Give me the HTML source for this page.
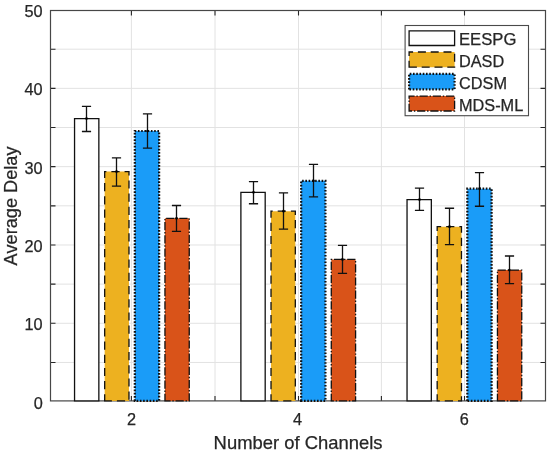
<!DOCTYPE html><html><head><meta charset="utf-8"><title>Average Delay vs Number of Channels</title><style>html,body{margin:0;padding:0;background:#fff;width:550px;height:454px;overflow:hidden}svg{display:block}text{font-family:"Liberation Sans",Arial,sans-serif;fill:#262626;stroke:#262626;stroke-width:0.25px}</style></head><body>
<svg width="550" height="454" viewBox="0 0 550 454">
<rect x="0" y="0" width="550" height="454" fill="#fff"/>
<path d="M131.40 10.5V400.9M215.00 10.5V400.9M298.50 10.5V400.9M381.40 10.5V400.9M464.50 10.5V400.9M50.5 362.45H545.5M50.5 323.29H545.5M50.5 284.13H545.5M50.5 244.98H545.5M50.5 205.83H545.5M50.5 166.67H545.5M50.5 127.51H545.5M50.5 88.36H545.5M50.5 49.20H545.5" stroke="#e2e2e2" stroke-width="1" fill="none"/>
<path d="M131.40 400.9v-5M131.40 10.5v5M215.00 400.9v-5M215.00 10.5v5M298.50 400.9v-5M298.50 10.5v5M381.40 400.9v-5M381.40 10.5v5M464.50 400.9v-5M464.50 10.5v5M50.5 362.45h5M545.5 362.45h-5M50.5 323.29h5M545.5 323.29h-5M50.5 284.13h5M545.5 284.13h-5M50.5 244.98h5M545.5 244.98h-5M50.5 205.83h5M545.5 205.83h-5M50.5 166.67h5M545.5 166.67h-5M50.5 127.51h5M545.5 127.51h-5M50.5 88.36h5M545.5 88.36h-5M50.5 49.20h5M545.5 49.20h-5" stroke="#262626" stroke-width="1.1" fill="none"/>
<rect x="50.5" y="10.5" width="495.0" height="390.4" fill="none" stroke="#474747" stroke-width="1.2"/>
<path d="M74.55 400.90V118.60H98.85V400.90Z" fill="#ffffff" stroke="#111" stroke-width="1.3"/>
<path d="M104.68 400.90V171.60H128.98V400.90Z" fill="#EDB120" stroke="#111" stroke-width="1.3" stroke-dasharray="8.2 5" stroke-dashoffset="1.6"/>
<path d="M134.82 400.90V131.00H159.12V400.90Z" fill="#1A9CF8" stroke="#111" stroke-width="2.2" stroke-dasharray="1.6 1.65" stroke-dashoffset="0"/>
<path d="M164.95 400.90V218.30H189.25V400.90Z" fill="#D95319" stroke="#111" stroke-width="1.3" stroke-dasharray="8.2 1.8 1.4 1.8" stroke-dashoffset="1.0"/>
<path d="M240.89 400.90V192.35H265.19V400.90Z" fill="#ffffff" stroke="#111" stroke-width="1.3"/>
<path d="M271.02 400.90V211.20H295.32V400.90Z" fill="#EDB120" stroke="#111" stroke-width="1.3" stroke-dasharray="8.2 5" stroke-dashoffset="1.6"/>
<path d="M301.16 400.90V180.85H325.46V400.90Z" fill="#1A9CF8" stroke="#111" stroke-width="2.2" stroke-dasharray="1.6 1.65" stroke-dashoffset="0"/>
<path d="M331.29 400.90V259.40H355.59V400.90Z" fill="#D95319" stroke="#111" stroke-width="1.3" stroke-dasharray="8.2 1.8 1.4 1.8" stroke-dashoffset="1.0"/>
<path d="M407.04 400.90V199.60H431.34V400.90Z" fill="#ffffff" stroke="#111" stroke-width="1.3"/>
<path d="M437.17 400.90V226.70H461.47V400.90Z" fill="#EDB120" stroke="#111" stroke-width="1.3" stroke-dasharray="8.2 5" stroke-dashoffset="1.6"/>
<path d="M467.31 400.90V188.65H491.61V400.90Z" fill="#1A9CF8" stroke="#111" stroke-width="2.2" stroke-dasharray="1.6 1.65" stroke-dashoffset="0"/>
<path d="M497.44 400.90V270.10H521.74V400.90Z" fill="#D95319" stroke="#111" stroke-width="1.3" stroke-dasharray="8.2 1.8 1.4 1.8" stroke-dashoffset="1.0"/>
<path d="M86.5 106.30V131.50M81.90 106.30H91.10M81.90 131.50H91.10M116.5 157.90V186.20M111.90 157.90H121.10M111.90 186.20H121.10M147.5 113.80V148.10M142.90 113.80H152.10M142.90 148.10H152.10M176.5 205.50V231.30M171.90 205.50H181.10M171.90 231.30H181.10M253.5 181.55V203.76M248.90 181.55H258.10M248.90 203.76H258.10M283.5 192.94V229.10M278.90 192.94H288.10M278.90 229.10H288.10M313.5 164.35V196.80M308.90 164.35H318.10M308.90 196.80H318.10M342.5 245.45V273.30M337.90 245.45H347.10M337.90 273.30H347.10M419.5 188.20V210.40M414.90 188.20H424.10M414.90 210.40H424.10M449.5 208.25V244.55M444.90 208.25H454.10M444.90 244.55H454.10M479.5 172.70V206.25M474.90 172.70H484.10M474.90 206.25H484.10M509.5 256.00V283.70M504.90 256.00H514.10M504.90 283.70H514.10" stroke="#111" stroke-width="1.3" fill="none"/>
<circle cx="86.5" cy="118.60" r="1.35" fill="#000"/><circle cx="116.5" cy="171.60" r="1.35" fill="#000"/><circle cx="147.5" cy="131.00" r="1.35" fill="#000"/><circle cx="176.5" cy="218.30" r="1.35" fill="#000"/><circle cx="253.5" cy="192.35" r="1.35" fill="#000"/><circle cx="283.5" cy="211.20" r="1.35" fill="#000"/><circle cx="313.5" cy="180.85" r="1.35" fill="#000"/><circle cx="342.5" cy="259.40" r="1.35" fill="#000"/><circle cx="419.5" cy="199.60" r="1.35" fill="#000"/><circle cx="449.5" cy="226.70" r="1.35" fill="#000"/><circle cx="479.5" cy="188.65" r="1.35" fill="#000"/><circle cx="509.5" cy="270.10" r="1.35" fill="#000"/>
<text x="42.7" y="408.70" font-size="16.3" text-anchor="end">0</text>
<text x="42.7" y="330.39" font-size="16.3" text-anchor="end">10</text>
<text x="42.7" y="252.08" font-size="16.3" text-anchor="end">20</text>
<text x="42.7" y="173.77" font-size="16.3" text-anchor="end">30</text>
<text x="42.7" y="95.46" font-size="16.3" text-anchor="end">40</text>
<text x="42.7" y="17.15" font-size="16.3" text-anchor="end">50</text>
<text x="131.60" y="424.7" font-size="16.3" text-anchor="middle">2</text>
<text x="297.60" y="424.7" font-size="16.3" text-anchor="middle">4</text>
<text x="464.20" y="424.7" font-size="16.3" text-anchor="middle">6</text>
<text x="298.1" y="449.4" font-size="18.2" text-anchor="middle" textLength="169" lengthAdjust="spacingAndGlyphs">Number of Channels</text>
<text transform="translate(17,205.9) rotate(-90)" x="0" y="0" font-size="18.2" text-anchor="middle">Average Delay</text>
<rect x="405.1" y="25.5" width="123.4" height="90.2" fill="#fff" stroke="#4a4a4a" stroke-width="1.1"/>
<path d="M409.1 45.5V30.8H454.6V45.5Z" fill="#ffffff" stroke="#111" stroke-width="1.3"/>
<text x="459" y="45.25" font-size="16.3" textLength="57.4" lengthAdjust="spacingAndGlyphs">EESPG</text>
<path d="M409.1 67.2V52.0H454.6V67.2Z" fill="#EDB120" stroke="#111" stroke-width="1.3" stroke-dasharray="8 4.8" stroke-dashoffset="1.6"/>
<text x="459" y="66.70" font-size="16.3">DASD</text>
<path d="M409.1 89.4V73.8H454.6V89.4Z" fill="#1A9CF8" stroke="#111" stroke-width="2.2" stroke-dasharray="1.6 1.65" stroke-dashoffset="0"/>
<text x="459" y="88.70" font-size="16.3">CDSM</text>
<path d="M409.1 111V96.1H454.6V111Z" fill="#D95319" stroke="#111" stroke-width="1.3" stroke-dasharray="8.2 1.8 1.4 1.8" stroke-dashoffset="1.0"/>
<text x="459" y="110.65" font-size="16.3">MDS-ML</text>
</svg></body></html>
